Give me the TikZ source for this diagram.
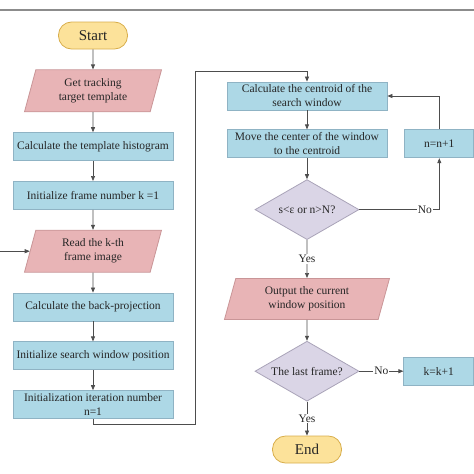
\documentclass[tikz,border=0pt]{standalone}
\usepackage{fontspec}
\setmainfont{Liberation Serif}
\usepackage{xcolor}
\definecolor{cBox}{HTML}{ADD8E6}
\definecolor{cBoxLine}{HTML}{8FB3C4}
\definecolor{cIO}{HTML}{E8B4B6}
\definecolor{cIOLine}{HTML}{C99597}
\definecolor{cCond}{HTML}{DAD5E6}
\definecolor{cCondLine}{HTML}{A9A3B8}
\definecolor{cTerm}{HTML}{FCE29A}
\definecolor{cTermLine}{HTML}{D8AE4C}
\definecolor{cText}{HTML}{262626}
\definecolor{cLine}{HTML}{4D4D4D}
\definecolor{cRule}{HTML}{8C8C8C}
\usetikzlibrary{positioning,arrows.meta,shapes.geometric}
\tikzset{
  node-box/.style={draw=cBoxLine,fill=cBox,line width=0.8pt,
    minimum width=160pt,minimum height=28pt,inner sep=1.5pt,align=center,
    text=cText,font=\fontsize{11.5}{14}\selectfont},
  node-io/.style={trapezium,trapezium left angle=70,trapezium right angle=110,
    trapezium stretches body,draw=cIOLine,fill=cIO,line width=0.8pt,
    minimum width=137pt,minimum height=42pt,align=center,
    text=cText,font=\fontsize{11.5}{14}\selectfont},
  node-cond/.style={diamond,aspect=1.73,draw=cCondLine,fill=cCond,
    line width=0.8pt,minimum width=104pt,minimum height=60pt,inner sep=0pt,
    text=cText,font=\fontsize{11.5}{14}\selectfont},
  node-term/.style={rectangle,rounded corners=13pt,draw=cTermLine,fill=cTerm,
    line width=0.8pt,minimum width=69pt,minimum height=27pt,
    text=cText,font=\fontsize{15}{18}\selectfont},
  node-lbl/.style={fill=white,inner sep=1pt,text=cText,
    font=\fontsize{11.5}{14}\selectfont},
  arrow/.style={-{Triangle[length=5pt,width=4pt]},line width=0.7pt,draw=cLine},
}
\begin{document}
\begin{tikzpicture}[x=1pt,y=-1pt,node distance=20pt and 17pt]
  \useasboundingbox (0,0) rectangle (474,474);
  \clip (0,0) rectangle (474,474);
  \draw[cRule,line width=1.2pt] (0,10) -- (474,10);
  % left column
  \node[node-term] (start) at (93,35.5) {Start};
  \node[node-io,below=of start] (tmpl) {Get tracking\\target template};
  \node[node-box,below=of tmpl] (hist) {Calculate the template histogram};
  \node[node-box,below=of hist] (kinit) {Initialize frame number k =1};
  \node[node-io,below=of kinit] (read) {Read the k-th\\frame image};
  \node[node-box,below=of read] (bproj) {Calculate the back-projection};
  \node[node-box,below=of bproj] (winit) {Initialize search window position};
  \node[node-box,below=of winit] (ninit) {Initialization iteration number\\n=1};
  % right column
  \node[node-box] (cent) at (307,96) {Calculate the centroid of the\\search window};
  \node[node-box,below=19pt of cent] (move) {Move the center of the window\\to the centroid};
  \node[node-cond,below=21pt of move] (conv) {s<ε or n>N?};
  \node[node-io,below=38pt of conv,minimum width=165pt,minimum height=41pt]
       (out) {Output the current\\window position};
  \node[node-cond,below=21pt of out] (last) {The last frame?};
  \node[node-term,below=34pt of last] (end) {End};
  \node[node-box,right=of move,minimum width=69pt] (ninc) {n=n+1};
  \node[node-box,right=44pt of last,minimum width=70pt] (kinc) {k=k+1};
  \coordinate (jL) at (195,424);
  \coordinate (jT) at (195,71);
  \draw[arrow] (start) -- (tmpl);
  \draw[arrow] (tmpl) -- (hist);
  \draw[arrow] (hist) -- (kinit);
  \draw[arrow] (kinit) -- (read);
  \draw[arrow] (read) -- (bproj);
  \draw[arrow] (bproj) -- (winit);
  \draw[arrow] (winit) -- (ninit);
  \draw[arrow] (ninit.south) |- (jL) -- (jT) -| (cent.north);
  \draw[arrow] (cent) -- (move);
  \draw[arrow] (move) -- (conv);
  \draw[arrow] (conv.east) -| node[node-lbl,pos=0.41]{No} (ninc.south);
  \draw[arrow] (ninc.north) |- (cent.east);
  \draw[arrow] (conv) -- node[node-lbl]{Yes} (out);
  \draw[arrow] (out) -- (last);
  \draw[arrow] (last.east) -- node[node-lbl]{No} (kinc);
  \draw[arrow] (last) -- node[node-lbl]{Yes} (end);
  \draw[arrow] (kinc.east) -- ++(20,0) |- (-20,490) |- (read);
\end{tikzpicture}
\end{document}
